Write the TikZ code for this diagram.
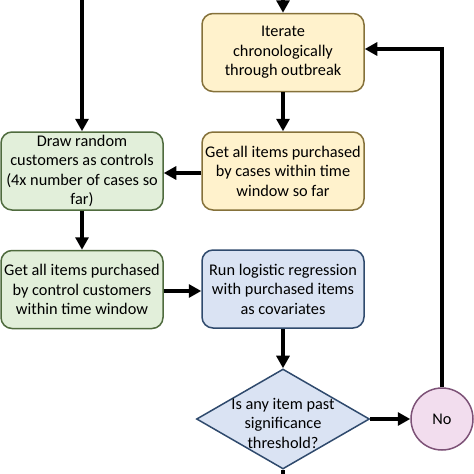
\documentclass[tikz,border=0pt]{standalone}
\usepackage{fontspec}
\setmainfont{Carlito}
\usetikzlibrary{arrows.meta,shapes.geometric}
\definecolor{yfill}{HTML}{FFF2CC}
\definecolor{ydraw}{HTML}{85713A}
\definecolor{gfill}{HTML}{E2EFDA}
\definecolor{gdraw}{HTML}{4F6B3E}
\definecolor{bfill}{HTML}{DAE3F3}
\definecolor{bdraw}{HTML}{2F4A6D}
\definecolor{pfill}{HTML}{F2DDEE}
\definecolor{pdraw}{HTML}{7D5277}
\tikzset{
  txtfont/.style={font=\fontsize{16.3}{19.5}\selectfont},
  box/.style={rounded corners=11pt, line width=1.5pt, minimum width=162pt, minimum height=78pt, align=center, inner sep=0pt, txtfont},
  ybox/.style={box, fill=yfill, draw=ydraw},
  gbox/.style={box, fill=gfill, draw=gdraw},
  bbox/.style={box, fill=bfill, draw=bdraw},
  arr/.style={line width=4pt, -{Triangle[length=12.5pt,width=13pt]}},
  plain/.style={line width=4pt},
}
\begin{document}
\begin{tikzpicture}[x=1pt,y=-1pt]
\useasboundingbox (0,0) rectangle (474,474);
\node[ybox] (it) at (283,52.5) {Iterate\\chronologically\\through outbreak};
\node[ybox] (cases) at (283,171) {Get all items purchased\\by cases within time\\window so far};
\node[gbox] (draw) at (82,171) {Draw random\\customers as controls\\(4x number of cases so\\far)};
\node[gbox] (ctrl) at (82,289.5) {Get all items purchased\\by control customers\\within time window};
\node[bbox] (reg) at (283,289) {Run logistic regression\\with purchased items\\as covariates};
\node[diamond, fill=bfill, draw=bdraw, line width=1.5pt, minimum width=173pt, minimum height=100pt, inner sep=0pt,
      label={[align=center, txtfont, yshift=-4pt]center:Is any item past\\significance\\threshold?}] (dec) at (283,419) {};
\node[circle, fill=pfill, draw=pdraw, line width=1.5pt, minimum size=62pt, inner sep=0pt, txtfont] (no) at (442,419) {No};
\coordinate (tl) at (82,-2);
\coordinate (tc) at (283,-2);
\coordinate (loop) at (442,49);
\coordinate (bot) at (283,478);
\draw[arr] (tl) -- (draw);
\draw[arr] (tc) -- (it);
\draw[arr] (it) -- (cases);
\draw[arr] (cases.west |- 0,173) -- (draw.east |- 0,173);
\draw[arr] (draw) -- (ctrl);
\draw[arr] (ctrl.east |- 0,291) -- (reg.west |- 0,291);
\draw[arr] (reg) -- (dec);
\draw[arr] (dec) -- (no);
\draw[arr] (no) -- (loop) -- (it.east |- loop);
\draw[plain] (dec.south) -- (bot);
\end{tikzpicture}
\end{document}
